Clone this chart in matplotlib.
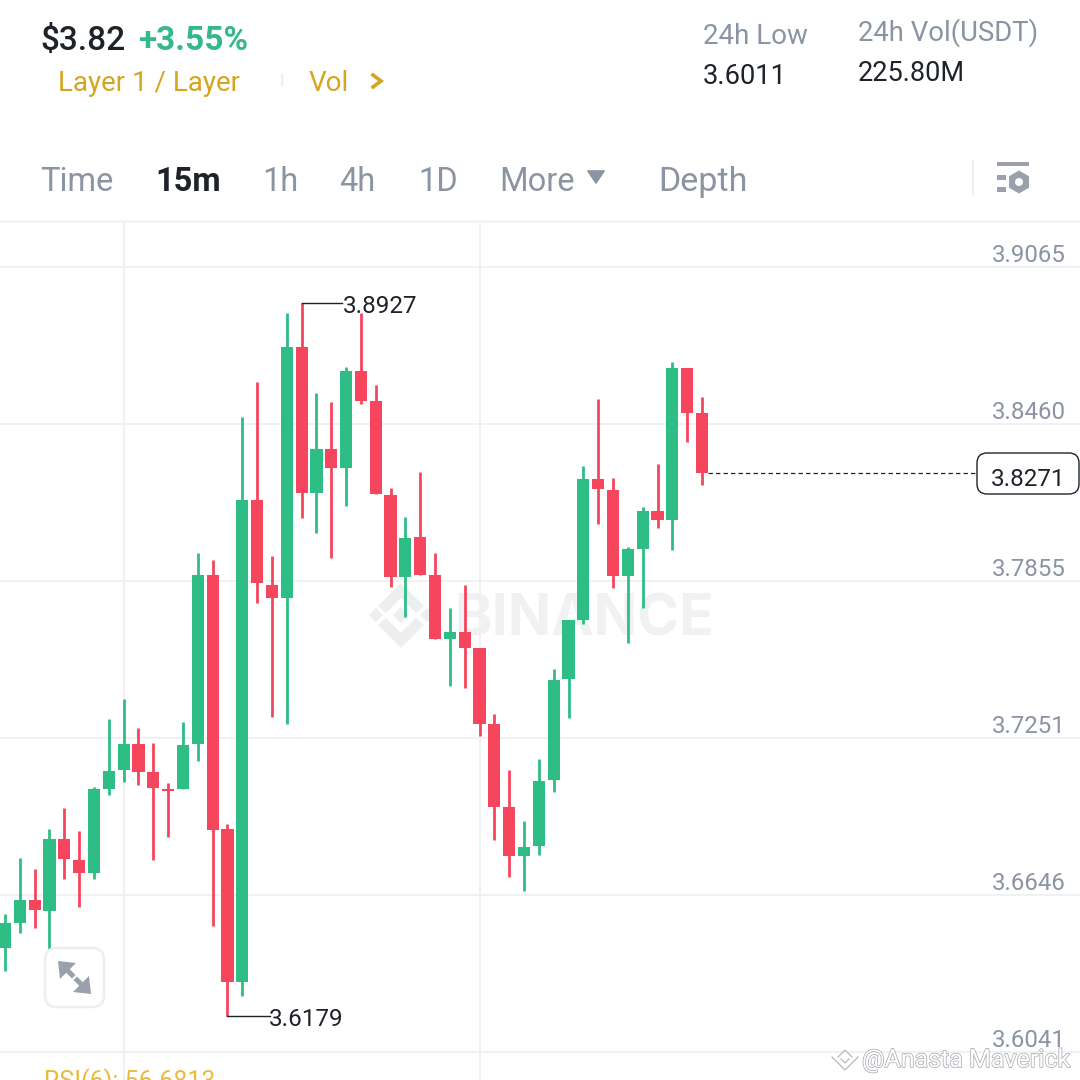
import matplotlib
matplotlib.use("Agg")
import matplotlib.pyplot as plt
import matplotlib.patheffects as pe
from matplotlib.patches import FancyBboxPatch, Polygon, Circle, Rectangle, RegularPolygon

plt.rcParams['font.family'] = ['Roboto', 'DejaVu Sans']

GREEN = "#2ebd85"
RED = "#f6465d"
DARK = "#1e2329"
GREY = "#8a94a2"
GOLD = "#d6a520"
LINE = "#eef0f2"

opens = [3.6440, 3.6537, 3.6626, 3.6585, 3.6860, 3.6780, 3.6731, 3.7055, 3.7126, 3.7226, 3.7118, 3.7055,
         3.7055, 3.7227, 3.7878, 3.6900, 3.6311, 3.8167, 3.7841, 3.7788, 3.8758, 3.8195, 3.8365, 3.8289,
         3.8664, 3.8548, 3.8186, 3.7872, 3.8023, 3.7878, 3.7632, 3.7660, 3.7596, 3.7304, 3.6984, 3.6795,
         3.6834, 3.7088, 3.7476, 3.7705, 3.8247, 3.8206, 3.7874, 3.7978, 3.8126, 3.8090, 3.8675, 3.8501]
highs = [3.6571, 3.6789, 3.6746, 3.6898, 3.6980, 3.6892, 3.7062, 3.7322, 3.7399, 3.7289, 3.7230, 3.7075,
         3.7313, 3.7962, 3.7936, 3.6917, 3.8488, 3.8623, 3.7951, 3.8889, 3.8927, 3.8578, 3.8546, 3.8678,
         3.8889, 3.8610, 3.8213, 3.8103, 3.8276, 3.7963, 3.7751, 3.7840, 3.7596, 3.7343, 3.7127, 3.6930,
         3.7169, 3.7516, 3.7705, 3.8298, 3.8557, 3.8251, 3.7985, 3.8139, 3.8306, 3.8698, 3.8675, 3.8563]
lows = [3.6352, 3.6500, 3.6518, 3.6423, 3.6706, 3.6600, 3.6706, 3.7031, 3.7082, 3.7068, 3.6780, 3.6867,
        3.7052, 3.7161, 3.6527, 3.6179, 3.6256, 3.7769, 3.7332, 3.7304, 3.8099, 3.8039, 3.7945, 3.8144,
        3.8536, 3.8189, 3.7833, 3.7717, 3.7878, 3.7632, 3.7452, 3.7442, 3.7258, 3.6857, 3.6714, 3.6660,
        3.6799, 3.7042, 3.7328, 3.7688, 3.8074, 3.7827, 3.7615, 3.7752, 3.8058, 3.7974, 3.8392, 3.8224]
closes = [3.6536, 3.6626, 3.6588, 3.6860, 3.6783, 3.6730, 3.7053, 3.7124, 3.7227, 3.7119, 3.7056, 3.7047,
          3.7223, 3.7878, 3.6896, 3.6311, 3.8167, 3.7848, 3.7788, 3.8758, 3.8195, 3.8365, 3.8289, 3.8664,
          3.8550, 3.8189, 3.7872, 3.8022, 3.7878, 3.7632, 3.7659, 3.7598, 3.7304, 3.6984, 3.6795, 3.6830,
          3.7084, 3.7474, 3.7705, 3.8247, 3.8208, 3.7874, 3.7978, 3.8126, 3.8090, 3.8675, 3.8501, 3.8271]

price_ticks = [3.9065, 3.8460, 3.7855, 3.7251, 3.6646, 3.6041]
price_labels = ["3.9065", "3.8460", "3.7855", "3.7251", "3.6646", "3.6041"]
time_grid = [8, 32]
last_price = 3.8271
tabs = ["Time", "15m", "1h", "4h", "1D", "More", "Depth"]
tab_x = [40, 155, 262, 339, 418, 499, 658]

fig = plt.figure(figsize=(10.8, 10.8), dpi=100, facecolor="white")


def pixel_axes(z):
    a = fig.add_axes([0, 0, 1, 1], zorder=z)
    a.set_xlim(0, 1080)
    a.set_ylim(1080, 0)
    a.axis("off")
    a.patch.set_alpha(0)
    return a


def diamond(a, cx, cy, r, color):
    a.add_patch(Polygon([(cx - r, cy), (cx, cy - r), (cx + r, cy), (cx, cy + r)], fc=color, ec="none"))


# watermark goes under the candles
bg = pixel_axes(0)
wm = "#eceef0"
bg.text(454, 635, "BINANCE", fontsize=41, fontweight="bold", family="Inter", color="#eff1f2", va="baseline")
diamond(bg, 376, 615, 7, wm)
diamond(bg, 401, 615, 8, wm)
diamond(bg, 427, 615, 7, wm)
bg.add_patch(Polygon([(401, 583), (424, 606), (416, 613), (401, 598), (386, 613), (378, 606)], fc=wm, ec="none"))
bg.add_patch(Polygon([(401, 648), (424, 625), (416, 618), (401, 633), (386, 618), (378, 625)], fc=wm, ec="none"))

# candles
ax = fig.add_axes([0, 0, 1, 1], zorder=1)
ax.patch.set_alpha(0)
ax.axis("off")
ax.set_xlim(-0.337, 72.49)
ax.set_ylim(3.5932, 4.0094)

top_grid = 3.9238
ax.hlines(price_ticks, -1, 73, color=LINE, lw=1.3, zorder=1)
ax.vlines(time_grid, 3.5932, top_grid, color=LINE, lw=1.3, zorder=1)

for i in range(len(opens)):
    c = GREEN if closes[i] >= opens[i] else RED
    ax.vlines(i, lows[i], highs[i], color=c, lw=2.0, zorder=2)
    bottom = min(opens[i], closes[i])
    ax.bar(i, abs(closes[i] - opens[i]), bottom=bottom, width=0.82, color=c, zorder=3)

# high / low markers
hi = highs.index(max(highs))
lo = lows.index(min(lows))
ax.plot([hi, hi + 2.75], [highs[hi], highs[hi]], color=DARK, lw=1, zorder=4)
ax.text(hi + 2.78, highs[hi] - 0.0038, "%.4f" % highs[hi], fontsize=17.5, color=DARK, va="baseline", zorder=5)
ax.plot([lo, lo + 2.85], [lows[lo], lows[lo]], color=DARK, lw=1, zorder=4)
ax.text(lo + 2.8, lows[lo] - 0.0038, "%.4f" % lows[lo], fontsize=17.5, color=DARK, va="baseline", zorder=5)

# last price
ax.plot([47.4, 65.6], [last_price, last_price], color=DARK, lw=0.9, ls=(0, (3.5, 2.5)), zorder=2)

# price axis labels, sitting just above their grid lines
trans = ax.get_yaxis_transform()
for p, lab in zip(price_ticks, price_labels):
    ax.annotate(lab, (1066 / 1080, p), xycoords=trans, xytext=(0, 3.6), textcoords="offset points",
                ha="right", va="baseline", fontsize=17.3, color=GREY)

# everything in the app chrome is placed by pixel
ui = pixel_axes(2)
ui.text(40, 50, "$3.82", fontsize=24, fontweight="medium", color=DARK, va="baseline")
ui.text(138, 50, "+3.55%", fontsize=24, fontweight="bold", color="#35b98a", va="baseline")
ui.text(58, 91, "Layer 1 / Layer", fontsize=20, color=GOLD, va="baseline")
ui.text(309, 91, "Vol", fontsize=20, color=GOLD, va="baseline")
ui.plot([373, 381, 373], [75, 81, 87], color=GOLD, lw=2.6, solid_joinstyle="miter")
ui.plot([282, 282], [75, 85], color=LINE, lw=1.6)

ui.text(703, 44, "24h Low", fontsize=20, color=GREY, va="baseline")
ui.text(703, 84, "3.6011", fontsize=19.7, color=DARK, va="baseline")
ui.text(858, 41, "24h Vol(USDT)", fontsize=19.8, color=GREY, va="baseline")
ui.text(858, 81, "225.80M", fontsize=19.5, color=DARK, va="baseline")

for lab, x in zip(tabs, tab_x):
    active = lab == "15m"
    size = 24.5 if lab == "Depth" else 23.5
    ui.text(x, 191, lab, fontsize=size, color=DARK if active else GREY,
            fontweight="bold" if active else "normal", va="baseline")
ui.add_patch(Polygon([(588, 171), (604, 171), (596, 183)], fc=GREY, ec=GREY, lw=1.2, joinstyle="round"))

# settings icon
ui.plot([973, 973], [161, 194], color=LINE, lw=1.6)
ui.add_patch(Rectangle((997, 162), 32, 4, fc="#9aa1ac", ec="none"))
ui.add_patch(Rectangle((997, 175), 9, 4.5, fc="#9aa1ac", ec="none"))
ui.add_patch(Rectangle((997, 187), 9, 4.5, fc="#9aa1ac", ec="none"))
ui.add_patch(RegularPolygon((1019, 182), 6, radius=11.5, fc="#9aa1ac", ec="none"))
ui.add_patch(Circle((1019, 182), 4, fc="white", ec="none"))

# divider under the tabs
ui.plot([0, 1080], [221, 221], color="#f2f3f5", lw=2)

# last price box
ui.add_patch(FancyBboxPatch((985, 461), 86, 25, boxstyle="round,pad=8,rounding_size=10",
                            fc="white", ec=DARK, lw=1))
ui.text(1028, 486, "3.8271", fontsize=17.5, color=DARK, ha="center", va="baseline")

# expand button
ui.add_patch(FancyBboxPatch((55, 958), 39, 39, boxstyle="round,pad=10,rounding_size=12",
                            fc="white", ec="#eceef0", lw=1.8, zorder=5))
arrow = "#9aa1ac"
ui.add_patch(Polygon([(58, 961), (76, 963), (60, 979)], fc=arrow, ec="none", zorder=6))
ui.add_patch(Polygon([(91, 994), (73, 992), (89, 976)], fc=arrow, ec="none", zorder=6))
ui.plot([66, 72], [969, 975], color=arrow, lw=3.6, zorder=6)
ui.plot([83, 77], [986, 980], color=arrow, lw=3.6, zorder=6)

# indicator line, cut off by the bottom edge
ui.text(44, 1089, "RSI(6): 56.6813", fontsize=18, color="#e8bc3c", va="baseline", clip_on=True)

# repost watermark
stroke = [pe.withStroke(linewidth=1.1, foreground="#a9adb3")]
ui.text(862, 1067, "@Anasta Maverick", fontsize=18, color="white", va="baseline", path_effects=stroke)
ui.plot([832, 845, 858], [1057, 1070, 1057], color="#b5b9be", lw=0.9)
ui.plot([838, 845, 852], [1057, 1050, 1057], color="#b5b9be", lw=0.9)
ui.plot([841, 845, 849], [1059, 1063, 1059], color="#b5b9be", lw=0.9)

fig.savefig("out.png", dpi=100)
